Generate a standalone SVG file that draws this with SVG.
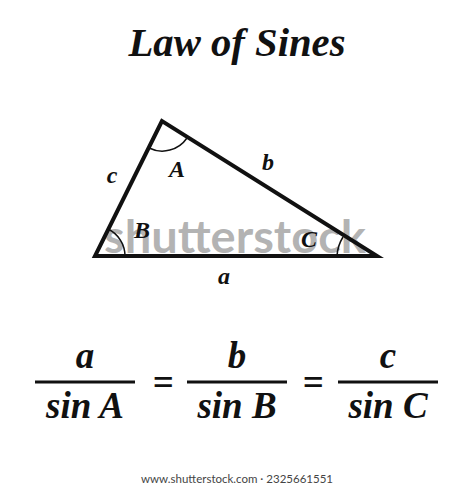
<svg xmlns="http://www.w3.org/2000/svg" width="474" height="489" viewBox="0 0 474 489">
<style>
.t{font-family:"Liberation Serif","DejaVu Serif",serif;font-style:italic;font-weight:bold;fill:#111;text-anchor:middle}
.lbl{font-size:24px}
.frac{font-size:37px}
.edge{fill:none;stroke:#111;stroke-width:4;stroke-linejoin:miter}
.arc{fill:none;stroke:#111;stroke-width:1.5}
.bar{stroke:#111;stroke-width:3}
</style>
<rect width="474" height="489" fill="#fff"/>
<text class="t" x="237" y="56" font-size="40" textLength="217" lengthAdjust="spacingAndGlyphs">Law of Sines</text>
<g id="watermark"><text x="235" y="253" font-family="Lato,'Liberation Sans',sans-serif" font-weight="bold" font-size="46" fill="#9a9a9a" fill-opacity="0.75" text-anchor="middle" textLength="262" lengthAdjust="spacingAndGlyphs">shutterstock</text></g>
<g id="connectors">
<polygon class="edge" points="162,121 95,256 377,256"/>
</g>
<g id="angleA"><path class="arc" d="M149,148 A30,30 0 0 0 187,138"/><text class="t lbl" x="177" y="177">A</text></g>
<g id="angleB"><path class="arc" d="M108,229 A30,30 0 0 1 125,256"/><text class="t lbl" x="142" y="238">B</text></g>
<g id="angleC"><path class="arc" d="M343,237 A40,40 0 0 0 337,256"/><text class="t lbl" x="309" y="247">C</text></g>
<g id="sides">
<text class="t lbl" x="112" y="183">c</text>
<text class="t lbl" x="268" y="170">b</text>
<text class="t lbl" x="224" y="284">a</text>
</g>
<g id="formula">
<text class="t frac" x="85" y="368">a</text>
<line class="bar" x1="35" y1="382" x2="135" y2="382"/>
<text class="t frac" x="85" y="418">sin A</text>
<text class="t frac" x="163" y="395" font-style="normal">=</text>
<text class="t frac" x="237" y="368">b</text>
<line class="bar" x1="187" y1="382" x2="287" y2="382"/>
<text class="t frac" x="237" y="418">sin B</text>
<text class="t frac" x="313" y="395" font-style="normal">=</text>
<text class="t frac" x="388" y="368">c</text>
<line class="bar" x1="338" y1="382" x2="438" y2="382"/>
<text class="t frac" x="388" y="418">sin C</text>
</g>
<text x="237" y="483" font-family="Lato,'Liberation Sans',sans-serif" font-size="11.5" fill="#444" text-anchor="middle">www.shutterstock.com · 2325661551</text>
</svg>
